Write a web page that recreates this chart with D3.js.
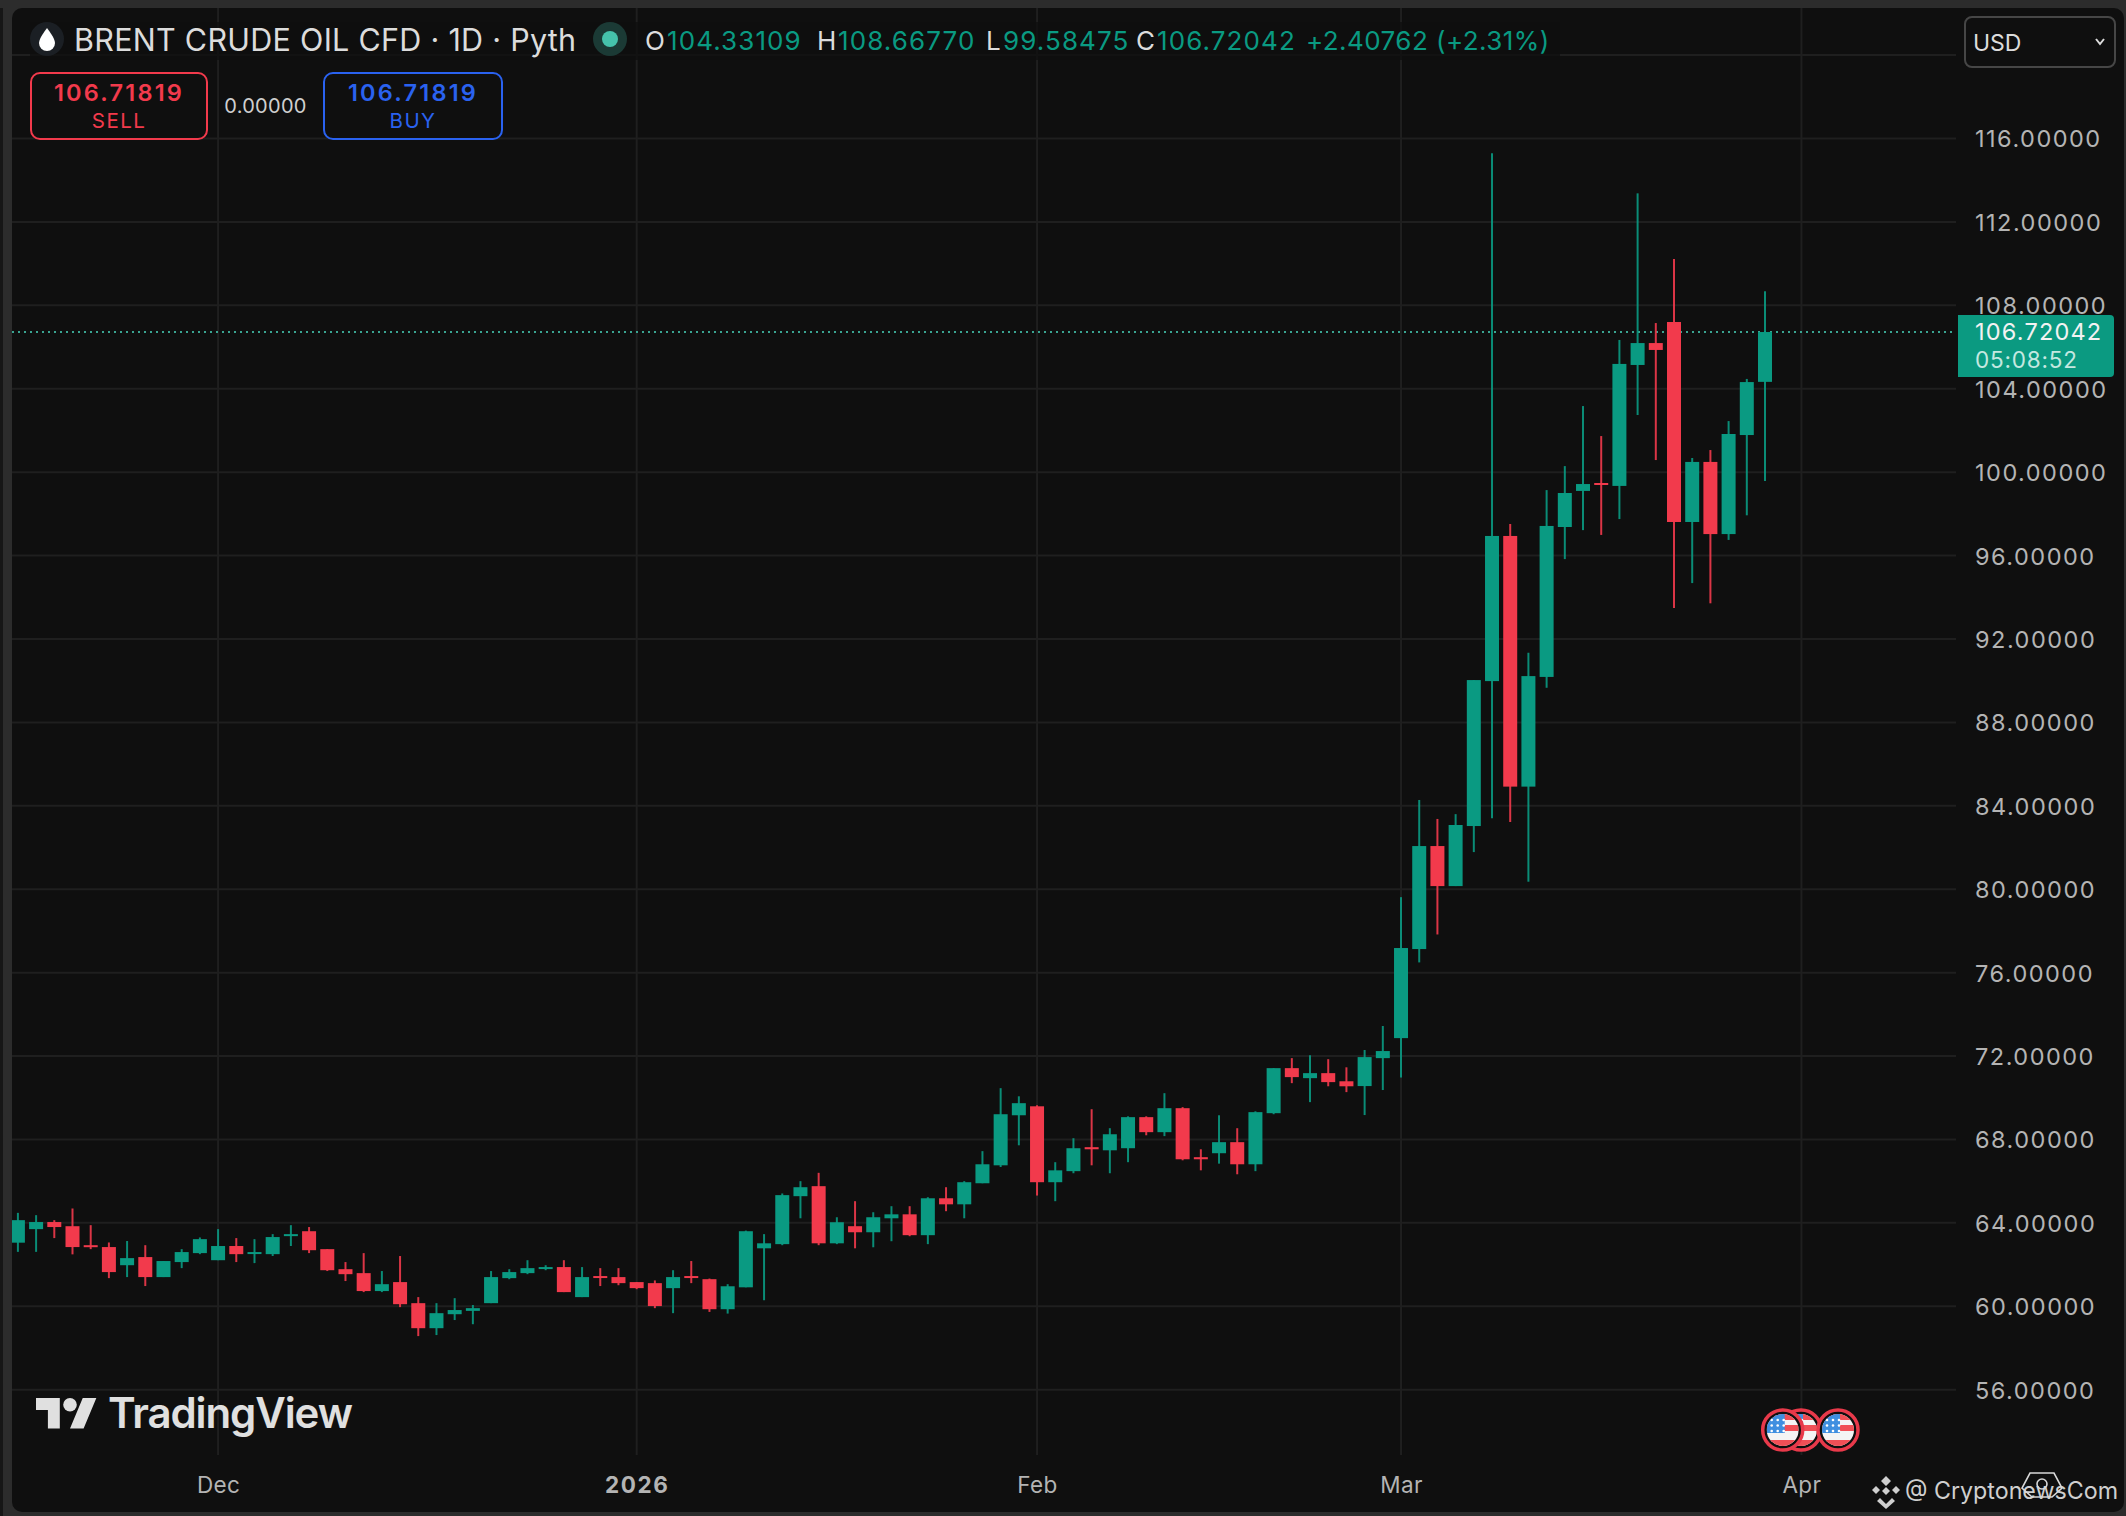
<!DOCTYPE html>
<html><head><meta charset="utf-8">
<style>
html,body{margin:0;padding:0;background:#2c2c2c;}
svg{display:block;}
text{font-family:Inter,"Noto Sans",sans-serif;}
</style>
<script src="https://cdn.jsdelivr.net/npm/d3@7/dist/d3.min.js"></script>
</head><body><div id="c"></div>
<script>
const opens=[63.05,63.70,64.04,63.84,62.93,62.84,61.97,62.36,61.40,62.12,62.55,62.21,62.89,62.53,62.50,63.38,63.60,62.74,61.78,61.59,60.73,61.16,60.15,58.95,59.62,59.78,60.15,61.35,61.59,61.80,61.88,60.44,61.45,61.40,61.16,61.11,60.87,61.45,61.30,59.86,60.91,62.78,62.98,65.28,65.76,63.02,63.84,63.55,64.22,64.41,63.41,65.18,64.89,65.90,66.76,69.16,69.59,65.95,66.48,67.63,67.48,67.58,69.07,68.35,69.50,67.15,67.34,67.87,66.81,69.26,71.42,70.94,71.18,70.79,70.56,71.90,72.86,77.13,82.07,80.15,83.03,89.98,96.94,84.92,90.18,97.37,99.10,99.48,99.34,105.14,106.19,107.20,97.61,100.49,97.03,101.78,104.33];
const highs=[64.48,64.37,64.13,64.69,63.89,63.06,63.13,62.93,62.17,62.74,63.30,63.70,63.27,63.22,63.46,63.89,63.80,62.74,62.12,62.55,61.69,62.41,60.44,60.15,60.39,60.06,61.69,61.78,62.21,61.97,62.21,61.88,61.83,61.83,61.16,61.24,61.73,62.17,61.33,61.06,63.63,63.46,65.41,66.00,66.40,64.27,65.04,64.51,64.80,64.80,65.23,65.71,66.00,67.44,70.46,70.07,69.64,66.91,68.06,69.45,68.54,69.11,69.11,70.22,69.55,67.53,69.16,68.54,69.35,71.42,71.90,72.04,71.85,71.46,72.29,73.44,79.62,84.28,83.37,83.60,90.03,115.29,97.51,91.34,99.14,100.29,103.17,101.73,106.34,113.37,107.15,110.22,100.68,101.06,102.45,104.47,108.67];
const lows=[62.61,62.61,63.27,62.49,62.74,61.35,61.40,60.97,61.40,61.83,62.50,62.21,62.12,62.07,62.41,62.89,62.55,61.69,61.21,60.68,60.68,59.96,58.57,58.62,59.34,59.14,60.15,61.30,61.54,61.73,60.68,60.44,60.97,61.01,60.82,59.91,59.67,61.11,59.73,59.65,60.91,60.29,62.93,64.22,62.93,62.98,62.78,62.83,63.12,63.36,62.98,64.56,64.22,65.90,66.68,67.72,65.31,65.04,66.38,66.76,66.38,66.91,68.20,68.16,67.00,66.52,66.84,66.33,66.48,69.21,70.70,69.79,70.55,70.27,69.17,70.37,70.97,76.49,77.83,80.15,81.78,83.40,83.22,80.36,89.66,95.83,97.22,96.99,97.75,102.74,100.58,93.48,94.68,93.71,96.75,97.93,99.58];
const closes=[64.13,64.04,63.80,62.84,62.84,61.64,62.31,61.40,62.17,62.60,63.22,62.89,62.50,62.60,63.32,63.46,62.69,61.73,61.54,60.73,61.06,60.10,58.95,59.67,59.82,59.91,61.40,61.64,61.83,61.88,60.68,61.40,61.37,61.11,60.87,60.01,61.40,61.37,59.86,60.96,63.60,63.02,65.33,65.71,63.02,64.03,63.55,64.27,64.41,63.41,65.18,64.89,65.95,66.81,69.21,69.74,65.95,66.52,67.58,67.53,68.25,69.07,68.35,69.50,67.05,67.05,67.87,66.81,69.31,71.42,70.99,71.18,70.75,70.55,71.95,72.24,77.18,82.07,80.15,83.08,90.03,96.94,84.92,90.22,97.42,99.00,99.43,99.40,105.19,106.19,105.86,97.61,100.49,97.03,101.83,104.32,106.72];
const priceTicks=[116,112,108,104,100,96,92,88,84,80,76,72,68,64,60,56];
const timeTickIndex=[11,34,56,76,98];
const timeTickLabels=["Dec","2026","Feb","Mar","Apr"];
const lastPrice=106.72042;
const legendFields=[["O","104.33109"],["H","108.66770"],["L","99.58475"],["C","106.72042"]];

const W=2126,H=1516,GREEN="#0a9a82",RED="#f23a4c",BLUE="#2a62f0";
const svg=d3.select("#c").append("svg").attr("width",W).attr("height",H);
svg.append("rect").attr("width",W).attr("height",H).attr("fill","#2c2c2c");
svg.append("rect").attr("x",12).attr("y",8).attr("width",W-14).attr("height",1504).attr("rx",10).attr("fill","#0f0f0f");

const x=d3.scaleLinear().domain([0,96]).range([17.9,1765]);
const y=d3.scaleLinear().domain([116,56]).range([138.5,1389.7]);

// grid
const g=svg.append("g");
g.selectAll(".h").data([120,...priceTicks]).join("line")
 .attr("x1",12).attr("x2",1956).attr("y1",d=>y(d)).attr("y2",d=>y(d))
 .attr("stroke","#1f1f1f").attr("stroke-width",2);
g.selectAll(".v").data(timeTickIndex).join("line")
 .attr("x1",d=>x(d)).attr("x2",d=>x(d)).attr("y1",8).attr("y2",1455)
 .attr("stroke","#1f1f1f").attr("stroke-width",2);

// last price line
g.append("line").attr("x1",12).attr("x2",1956).attr("y1",y(lastPrice)).attr("y2",y(lastPrice))
 .attr("stroke","#3aa592").attr("stroke-width",2).attr("stroke-dasharray","2 4");

// candles
const idx=d3.range(opens.length);
const col=i=>closes[i]>=opens[i]?GREEN:RED;
const c=svg.append("g");
c.selectAll(".w").data(idx).join("line")
 .attr("x1",i=>x(i)).attr("x2",i=>x(i)).attr("y1",i=>y(highs[i])).attr("y2",i=>y(lows[i]))
 .attr("stroke",col).attr("stroke-width",2).attr("opacity",.9);
c.selectAll(".b").data(idx).join("rect")
 .attr("x",i=>x(i)-7).attr("width",14)
 .attr("y",i=>y(Math.max(opens[i],closes[i])))
 .attr("height",i=>Math.max(2,Math.abs(y(opens[i])-y(closes[i]))))
 .attr("fill",col);

// frame strip over the left edge
svg.append("rect").attr("x",3).attr("y",8).attr("width",9).attr("height",H-8).attr("fill","#2c2c2c");
svg.append("rect").attr("x",0).attr("y",8).attr("width",3).attr("height",H-8).attr("fill","#161616");

// price axis
const ya=d3.axisRight(y).tickValues(priceTicks).tickSize(0).tickFormat(d=>d.toFixed(5));
const yg=svg.append("g").attr("transform","translate(1975,0)").call(ya);
yg.select(".domain").remove();
yg.selectAll("text").attr("x",0).attr("dy","0.36em").attr("font-size",23.5).attr("letter-spacing",1.5).attr("fill","#b4b4b4").attr("text-anchor","start");

// time axis
const xa=d3.axisBottom(x).tickValues(timeTickIndex).tickSize(0).tickFormat((d,i)=>timeTickLabels[i]);
const xg=svg.append("g").attr("transform","translate(0,1477)").call(xa);
xg.select(".domain").remove();
xg.selectAll("text").attr("y",0).attr("dy","0.72em").attr("font-size",22.5).attr("fill","#b4b4b4")
 .attr("letter-spacing",(d,i)=>timeTickLabels[i]==="2026"?1.6:0.4)
 .attr("font-weight",(d,i)=>timeTickLabels[i]==="2026"?700:400);

// current price label
svg.append("path").attr("d","M1958 315H2110a4 4 0 0 1 4 4V373a4 4 0 0 1 -4 4H1958Z").attr("fill","#0b9a81");
svg.append("text").attr("x",1975).attr("y",340).attr("font-size",23.5).attr("letter-spacing",1.2).attr("fill","#f2f2f2").text(lastPrice.toFixed(5));
svg.append("text").attr("x",1975).attr("y",368).attr("font-size",22.5).attr("letter-spacing",0.8).attr("fill","#c4e8e0").text("05:08:52");

// legend
svg.append("rect").attr("x",30).attr("y",22).attr("width",1530).attr("height",38).attr("fill","#0f0f0f").attr("opacity",.75);
svg.append("circle").attr("cx",47).attr("cy",39).attr("r",17).attr("fill","#1b1f24");
svg.append("path").attr("d","M47 28C47 28 39 38 39 43a8 8 0 0 0 16 0C55 38 47 28 47 28Z").attr("fill","#fff");
svg.append("text").attr("x",74).attr("y",51).attr("font-size",30.5).attr("letter-spacing",0.28).attr("fill","#dcdcdc").text("BRENT CRUDE OIL CFD · 1D · Pyth");
svg.append("circle").attr("cx",610).attr("cy",39).attr("r",17).attr("fill","#1b3a35");
svg.append("circle").attr("cx",610).attr("cy",39).attr("r",8).attr("fill","#45c2ab");
const legendX=[[645,667],[817,838],[986,1003],[1136,1157]];
legendFields.forEach((f,i)=>{
  svg.append("text").attr("x",legendX[i][0]).attr("y",50).attr("font-size",26).attr("fill","#dcdcdc").text(f[0]);
  svg.append("text").attr("x",legendX[i][1]).attr("y",50).attr("font-size",26).attr("letter-spacing",1.1).attr("fill",GREEN).text(f[1]);
});
svg.append("text").attr("x",1306).attr("y",50).attr("font-size",26).attr("letter-spacing",0.45).attr("fill",GREEN).text("+2.40762 (+2.31%)");

// buy / sell boxes
[[31,176,RED,"SELL"],[324,178,BLUE,"BUY"]].forEach(b=>{
  svg.append("rect").attr("x",b[0]).attr("y",73).attr("width",b[1]).attr("height",66).attr("rx",9)
    .attr("fill","#0f0f0f").attr("stroke",b[2]).attr("stroke-width",2);
  svg.append("text").attr("x",b[0]+b[1]/2).attr("y",101).attr("text-anchor","middle").attr("font-size",23.5).attr("font-weight",600).attr("letter-spacing",2.2).attr("fill",b[2]).text("106.71819");
  svg.append("text").attr("x",b[0]+b[1]/2).attr("y",128).attr("text-anchor","middle").attr("font-size",20.5).attr("letter-spacing",1.4).attr("fill",b[2]).text(b[3]);
});
svg.append("text").attr("x",265.5).attr("y",113).attr("text-anchor","middle").attr("font-size",20).attr("letter-spacing",0.3).attr("fill","#cfcfcf").text("0.00000");

// currency select
svg.append("rect").attr("x",1965).attr("y",17).attr("width",150).attr("height",50).attr("rx",7)
  .attr("fill","#0f0f0f").attr("stroke","#464646").attr("stroke-width",2);
svg.append("text").attr("x",1973).attr("y",51).attr("font-size",23).attr("fill","#dcdcdc").text("USD");
svg.append("path").attr("d","M2096 39L2100 44L2104 39").attr("fill","none").attr("stroke","#dcdcdc").attr("stroke-width",2);

// TradingView logo
svg.append("g").attr("transform","translate(36,1391.2) scale(1.7)").attr("fill","#e0e0e0")
  .call(l=>{l.append("path").attr("d","M14 22H7V11H0V4h14v18zM28 22h-8l7.5-18h8L28 22z");l.append("circle").attr("cx",20).attr("cy",8).attr("r",4);});
svg.append("text").attr("x",108).attr("y",1428).attr("font-size",42).attr("font-weight",600).attr("letter-spacing",-1.1).attr("fill","#e0e0e0").text("TradingView");

// event flags
const defs=svg.append("defs");
[1801,1782.7,1838].forEach((cx,n)=>{
  const cy=1430;
  defs.append("clipPath").attr("id","f"+n).append("circle").attr("cx",cx).attr("cy",cy).attr("r",16);
  svg.append("circle").attr("cx",cx).attr("cy",cy).attr("r",20).attr("fill","#0f0f0f").attr("stroke","#e8394a").attr("stroke-width",3.5);
  const f=svg.append("g").attr("clip-path",`url(#f${n})`);
  f.append("rect").attr("x",cx-16).attr("y",cy-16).attr("width",32).attr("height",32).attr("fill","#f4f4f4");
  f.append("rect").attr("x",cx-16).attr("y",cy-16).attr("width",32).attr("height",6).attr("fill","#f04f56");
  f.append("rect").attr("x",cx-16).attr("y",cy-5).attr("width",32).attr("height",6).attr("fill","#f04f56");
  f.append("rect").attr("x",cx-16).attr("y",cy+10).attr("width",32).attr("height",6).attr("fill","#f04f56");
  f.append("rect").attr("x",cx-16).attr("y",cy-16).attr("width",18).attr("height",19).attr("fill","#3f8fe0");
  d3.range(3).forEach(r=>d3.range(3).forEach(k=>f.append("circle").attr("cx",cx-11+k*6).attr("cy",cy-10+r*5.5).attr("r",1.3).attr("fill","#fff")));
});

// watermark
svg.append("path").attr("d","M1886 1476l5 5-5 5-5-5zM1876 1486l4 4-4 4-4-4zM1896 1486l4 4-4 4-4-4zM1886 1487l4 4-4 4-4-4zM1886 1504l-6-6 -3 3 9 8 9-8-3-3z")
  .attr("fill","#cfcfcf");
svg.append("text").attr("x",1905).attr("y",1499).attr("font-size",24).attr("fill","#cfcfcf").attr("textLength",213).attr("lengthAdjust","spacingAndGlyphs").text("@ CryptonewsCom");
svg.append("path").attr("d","M2030 1473H2054L2062 1488L2052 1497H2032L2022 1488Z").attr("fill","none").attr("stroke","#d8d8d8").attr("stroke-width",1.6);
svg.append("circle").attr("cx",2042).attr("cy",1484).attr("r",5).attr("fill","none").attr("stroke","#d8d8d8").attr("stroke-width",1.6);
</script></body></html>
